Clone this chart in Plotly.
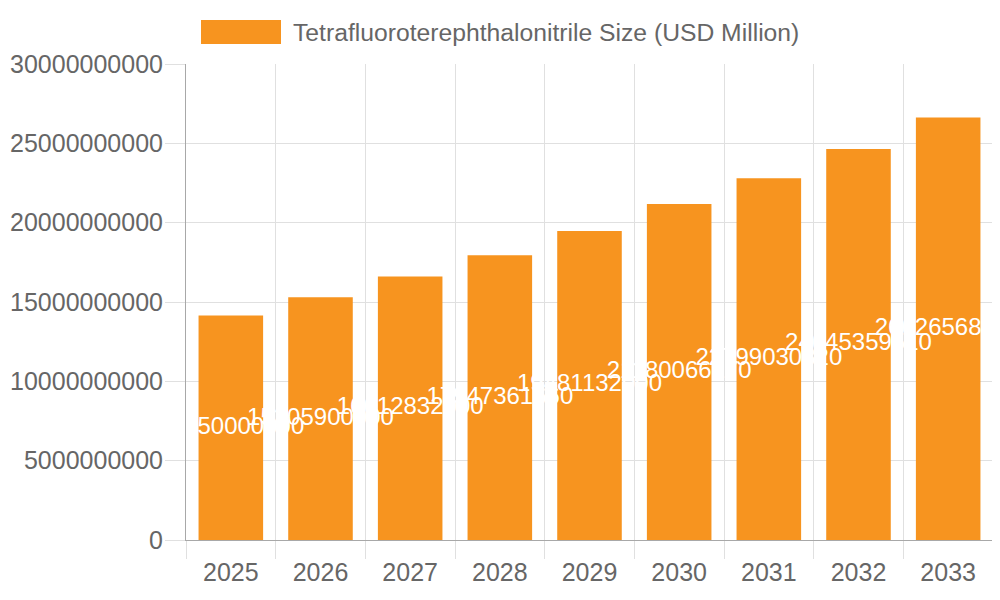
import plotly.graph_objects as go

# -------------------------------------------------------
# Data
# -------------------------------------------------------
YEARS = ["2025", "2026", "2027", "2028", "2029", "2030", "2031", "2032", "2033"]
MARKET_SIZE = [
    14150000000, 15305900000, 16612832000, 17947361660, 19481132000,
    21180066170, 22799030320, 24645359510, 26626568710,
]
LABELS = [str(v) for v in MARKET_SIZE]
SERIES_NAME = "Tetrafluoroterephthalonitrile Size (USD Million)"

BAR_COLOR = "#f7941f"
GRID_COLOR = "#e0e0e0"
AXIS_COLOR = "#a8a8a8"
TEXT_COLOR = "#666666"
FONT = "Liberation Sans, Arial, sans-serif"

fig = go.Figure()

fig.add_trace(go.Bar(
    x=YEARS,
    y=MARKET_SIZE,
    name=SERIES_NAME,
    marker=dict(color=BAR_COLOR, line=dict(width=0)),
    showlegend=False,
))

# data labels sit at the middle of each bar, white, spilling past the bar
fig.add_trace(go.Scatter(
    x=YEARS,
    y=[v / 2 for v in MARKET_SIZE],
    mode="text",
    text=LABELS,
    textposition="middle center",
    textfont=dict(color="white", size=24, family=FONT),
    cliponaxis=False,
    showlegend=False,
    hoverinfo="skip",
))

# legend drawn by hand: wide colour box + caption (paper coords of plot area)
fig.add_shape(
    type="rect", xref="paper", yref="paper",
    x0=(201 - 186) / 807, x1=(281 - 186) / 807,
    y0=(540 - 44) / 476, y1=(540 - 20) / 476,
    fillcolor=BAR_COLOR, line=dict(width=0),
)
fig.add_annotation(
    xref="paper", yref="paper",
    x=(291 - 186) / 807, y=(540 - 32) / 476,
    xanchor="left", yanchor="middle",
    text=SERIES_NAME, showarrow=False,
    font=dict(size=24.7, color=TEXT_COLOR, family=FONT),
)

# the page body adds an 8px offset, margins compensate for it
fig.update_layout(
    width=1000,
    height=600,
    margin=dict(l=178, r=15, t=56, b=68),
    paper_bgcolor="white",
    plot_bgcolor="white",
    bargap=0.28,
    font=dict(family=FONT, color=TEXT_COLOR, size=25),
    xaxis=dict(
        type="category",
        automargin=False,
        tickson="boundaries",
        ticks="outside",
        ticklen=18,
        tickcolor=GRID_COLOR,
        ticklabelstandoff=10,
        showgrid=True,
        gridcolor=GRID_COLOR,
        showline=True,
        linecolor=AXIS_COLOR,
        tickfont=dict(size=25, color=TEXT_COLOR),
    ),
    yaxis=dict(
        range=[0, 30000000000],
        dtick=5000000000,
        tickformat="d",
        automargin=False,
        ticks="outside",
        ticklen=20,
        tickcolor=GRID_COLOR,
        ticklabelstandoff=-3,
        showgrid=True,
        gridcolor=GRID_COLOR,
        zeroline=False,
        showline=True,
        linecolor=AXIS_COLOR,
        tickfont=dict(size=25, color=TEXT_COLOR),
    ),
)

fig.write_html("out.html")
